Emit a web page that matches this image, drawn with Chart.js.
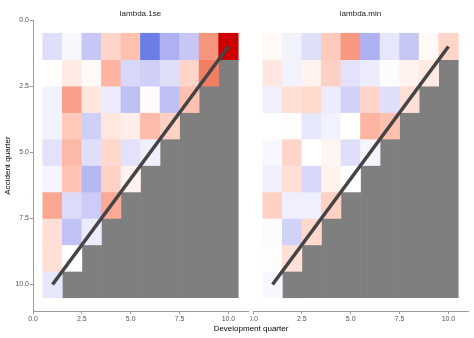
<!DOCTYPE html>
<html>
<head>
<meta charset="utf-8">
<script src="https://cdn.jsdelivr.net/npm/chart.js@4"></script>
<style>
  body { margin: 0; background: #fff; overflow: hidden; }
  #wrap { position: relative; width: 474px; height: 338px; font-family: "Liberation Sans", Arial, sans-serif; }
  canvas { position: absolute; top: 0; }
  #xtitle { position: absolute; left: 151px; width: 200px; top: 324px; text-align: center; font-size: 8px; color: #000; }
</style>
</head>
<body>
<div id="wrap">
  <canvas id="left" width="250" height="338" style="left:0"></canvas>
  <canvas id="right" width="224" height="338" style="left:250px"></canvas>
  <div id="xtitle">Development quarter</div>
</div>
<script>
// Axes
const devQuarters = [1, 2, 3, 4, 5, 6, 7, 8, 9, 10];
const accQuarters = [1, 2, 3, 4, 5, 6, 7, 8, 9, 10];
const xTicks = [0, 2.5, 5, 7.5, 10];
const yTicks = [0, 2.5, 5, 7.5, 10];
const panelTitles = ['lambda.1se', 'lambda.min'];

// Residual values per accident quarter (row), development quarter 1.. (-1 blue .. +1 red)
const resid1se = [
  [-0.2, -0.05, -0.35, 0.2, 0.3, -0.85, -0.5, -0.35, 0.5, 1.0],
  [0.0, 0.1, 0.03, 0.35, -0.25, -0.3, -0.2, 0.2, 0.6],
  [-0.08, 0.45, 0.12, -0.12, -0.4, 0.02, -0.4, 0.3],
  [-0.08, 0.25, -0.3, 0.12, 0.08, 0.32, 0.22],
  [-0.18, 0.33, -0.2, 0.18, -0.18, -0.1],
  [-0.06, 0.28, -0.45, 0.22, 0.06],
  [0.42, -0.22, -0.32, 0.4],
  [0.15, -0.38, -0.12],
  [0.15, 0.0],
  [-0.15]
];
const residMin = [
  [0.03, -0.08, -0.2, 0.25, 0.48, -0.5, -0.15, -0.35, 0.03, 0.2],
  [0.12, -0.08, 0.06, 0.22, -0.18, -0.12, -0.02, 0.06, 0.1],
  [-0.1, 0.15, 0.18, -0.12, -0.28, 0.2, -0.2, 0.15],
  [0.0, 0.01, -0.15, -0.08, 0.0, 0.35, 0.3],
  [-0.05, 0.2, 0.0, 0.04, -0.2, -0.06],
  [-0.1, 0.15, -0.25, 0.06, 0.0],
  [0.22, -0.1, -0.1, 0.22],
  [-0.02, -0.28, 0.18],
  [0.01, 0.15],
  [-0.05]
];

// diverging colour scale, interpolated in Lab like ggplot
function hexRgb(h) { return [1, 3, 5].map(i => parseInt(h.slice(i, i + 2), 16)); }
function toLab([r, g, b]) {
  const f = c => { c /= 255; return c > 0.04045 ? Math.pow((c + 0.055) / 1.055, 2.4) : c / 12.92; };
  const R = f(r), G = f(g), B = f(b);
  let X = (R * 0.4124 + G * 0.3576 + B * 0.1805) / 0.95047;
  let Y = R * 0.2126 + G * 0.7152 + B * 0.0722;
  let Z = (R * 0.0193 + G * 0.1192 + B * 0.9505) / 1.08883;
  const g3 = t => t > 0.008856 ? Math.cbrt(t) : 7.787 * t + 16 / 116;
  X = g3(X); Y = g3(Y); Z = g3(Z);
  return [116 * Y - 16, 500 * (X - Y), 200 * (Y - Z)];
}
function fromLab([L, a, b]) {
  let Y = (L + 16) / 116, X = a / 500 + Y, Z = Y - b / 200;
  const h = t => { const t3 = t * t * t; return t3 > 0.008856 ? t3 : (t - 16 / 116) / 7.787; };
  X = h(X) * 0.95047; Y = h(Y); Z = h(Z) * 1.08883;
  const R = X * 3.2406 - Y * 1.5372 - Z * 0.4986;
  const G = -X * 0.9689 + Y * 1.8758 + Z * 0.0415;
  const B = X * 0.0557 - Y * 0.2040 + Z * 1.0570;
  const k = c => { c = c > 0.0031308 ? 1.055 * Math.pow(c, 1 / 2.4) - 0.055 : 12.92 * c; return Math.round(Math.min(255, Math.max(0, c * 255))); };
  return `rgb(${k(R)},${k(G)},${k(B)})`;
}
const labLow = toLab(hexRgb('#4169E1'));
const labMid = toLab(hexRgb('#FFFFFF'));
const labHigh = toLab(hexRgb('#CC0000'));
function fillFor(v) {
  const end = v < 0 ? labLow : labHigh;
  const t = Math.min(1, Math.abs(v));
  return fromLab(labMid.map((m, i) => m + (end[i] - m) * t));
}

function buildDatasets(resid) {
  const sets = resid.map((row, r) => ({
    type: 'bar',
    order: 2,
    data: row.map((v, c) => ({ x: devQuarters[c], y: [accQuarters[r] - 0.5, accQuarters[r] + 0.5] })),
    backgroundColor: row.map(fillFor)
  }));
  // greyed-out future cells (lower-right triangle)
  const n = accQuarters.length;
  const grey = devQuarters
    .filter(j => n + 1 - j < n)
    .map(j => ({ x: j, y: [n + 1.5 - j, n + 0.5] }));
  sets.push({ type: 'bar', order: 2, data: grey, backgroundColor: '#7F7F7F' });
  // diagonal line
  sets.push({
    type: 'line', order: 0,
    data: [
      { x: devQuarters[0], y: accQuarters[n - 1] },
      { x: devQuarters[devQuarters.length - 1], y: accQuarters[0] }
    ],
    borderColor: '#444444', borderWidth: 3.5, pointRadius: 0, borderCapStyle: 'butt'
  });
  return sets;
}

const titlePlugin = {
  id: 'panelTitle',
  afterDraw(chart) {
    const { ctx, chartArea } = chart;
    ctx.save();
    ctx.font = '8px "Liberation Sans", Arial, sans-serif';
    ctx.fillStyle = '#1a1a1a';
    ctx.textAlign = 'center';
    ctx.textBaseline = 'middle';
    ctx.fillText(chart.options.plugins.panelTitle.text, (chartArea.left + chartArea.right) / 2, 14);
    ctx.restore();
  }
};

const axisGrey = '#9a9a9a';
const tickFont = { family: '"Liberation Sans", Arial, sans-serif', size: 7 };

function makeChart(id, resid, title, showY, padding) {
  return new Chart(document.getElementById(id), {
    data: { datasets: buildDatasets(resid) },
    plugins: [titlePlugin],
    options: {
      responsive: false,
      animation: false,
      layout: { padding },
      datasets: { bar: { categoryPercentage: 1, barPercentage: 1, borderWidth: 0 } },
      plugins: { legend: { display: false }, tooltip: { enabled: false }, panelTitle: { text: title } },
      scales: {
        x: {
          type: 'linear', min: 0, max: 11, stacked: true, offset: false,
          afterBuildTicks: s => { s.ticks = xTicks.map(v => ({ value: v })); },
          afterFit: s => { s.height = 27; s.paddingLeft = 0; s.paddingRight = 0; },
          grid: { drawOnChartArea: false, drawTicks: true, tickLength: 3, color: axisGrey, offset: false },
          border: { display: true, color: axisGrey, width: 1 },
          ticks: { font: tickFont, color: '#555', padding: 1, maxRotation: 0, callback: v => v.toFixed(1) }
        },
        y: {
          type: 'linear', min: 0, max: 11, reverse: true, display: showY,
          afterBuildTicks: s => { s.ticks = yTicks.map(v => ({ value: v })); },
          afterFit: s => { s.width = showY ? 33 : 0; },
          grid: { drawOnChartArea: false, drawTicks: true, tickLength: 3, color: axisGrey },
          border: { display: true, color: axisGrey, width: 1 },
          ticks: { font: tickFont, color: '#555', padding: 1, callback: v => v.toFixed(1) },
          title: { display: true, text: 'Accident quarter', color: '#000', padding: { top: 3, bottom: 0 },
                   font: { family: '"Liberation Sans", Arial, sans-serif', size: 8 } }
        }
      }
    }
  });
}

makeChart('left', resid1se, panelTitles[0], true, { top: 20, right: 2, bottom: 0, left: 0 });
makeChart('right', residMin, panelTitles[1], false, { top: 20, right: 6, bottom: 0, left: 3 });
</script>
</body>
</html>
